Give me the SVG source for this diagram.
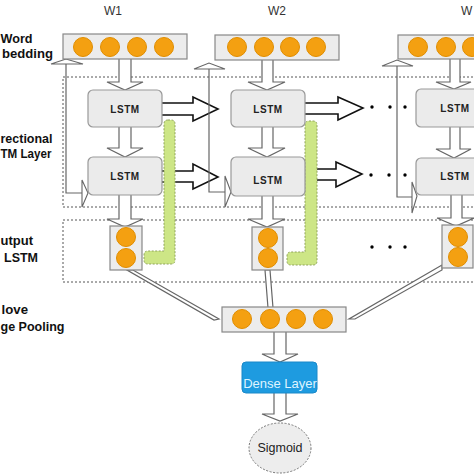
<svg xmlns="http://www.w3.org/2000/svg" width="474" height="474" viewBox="0 0 474 474">
<style>
.lbl{font-family:"Liberation Sans",Arial,sans-serif;font-weight:bold;font-size:13.5px;fill:#111}
.w{font-family:"Liberation Sans",Arial,sans-serif;font-size:12px;fill:#333}
.lstm{font-family:"Liberation Sans",Arial,sans-serif;font-weight:bold;font-size:10px;fill:#222;text-anchor:middle;letter-spacing:0.6px}
.vec{fill:#ececec;stroke:#888;stroke-width:1.2}
.dot{fill:#f4a011;stroke:#e08d00;stroke-width:1}
.box{fill:#ebebeb;stroke:#999;stroke-width:1.2}
.region{fill:none;stroke:#555;stroke-width:1;stroke-dasharray:2 2}
.darr{fill:#fff;stroke:#666;stroke-width:1.2}
.harr{fill:#fff;stroke:#111;stroke-width:1.6}
.fb{fill:none;stroke:#666;stroke-width:1.2}
.fbh{fill:#fff;stroke:#666;stroke-width:1.1}
.green{fill:#cde686;stroke:#8fa35a;stroke-width:1;stroke-dasharray:2 1.5}
.ell{fill:#000}
</style>
<rect width="474" height="474" fill="#fff"/>

<g id="regions">
<rect class="region" x="63" y="77" width="430" height="130"/>
<rect class="region" x="63" y="220" width="430" height="62"/>
</g>

<g id="labels">
<text class="lbl" x="0.5" y="43" textLength="32" lengthAdjust="spacingAndGlyphs">Word</text>
<text class="lbl" x="2" y="58" textLength="51" lengthAdjust="spacingAndGlyphs">bedding</text>
<text class="lbl" x="0.5" y="143" textLength="52" lengthAdjust="spacingAndGlyphs">rectional</text>
<text class="lbl" x="0.5" y="158" textLength="51" lengthAdjust="spacingAndGlyphs">TM Layer</text>
<text class="lbl" x="0.5" y="245" textLength="32.5" lengthAdjust="spacingAndGlyphs">utput</text>
<text class="lbl" x="4" y="262" textLength="34" lengthAdjust="spacingAndGlyphs">LSTM</text>
<text class="lbl" x="1.5" y="314" textLength="26.5" lengthAdjust="spacingAndGlyphs">love</text>
<text class="lbl" x="0.5" y="331" textLength="64" lengthAdjust="spacingAndGlyphs">ge Pooling</text>
<text class="w" x="104" y="15">W1</text>
<text class="w" x="268" y="15">W2</text>
<text class="w" x="461" y="15">W</text>
</g>

<g id="connectors">
<!-- down arrows -->
<path class="darr" d="M119,59 V82 H107 L125,90 L143,82 H131 V59"/>
<path class="darr" d="M119,127 V148 H107 L125,157 L143,148 H131 V127"/>
<path class="darr" d="M119,195 V219 H107 L125,227 L143,219 H131 V195"/>
<path class="darr" d="M262,59 V82 H248 L267,90 L285,82 H273 V59"/>
<path class="darr" d="M262,127 V148 H248 L267,157 L285,148 H273 V127"/>
<path class="darr" d="M262,196 V219 H248 L267,227 L285,219 H273 V196"/>
<path class="darr" d="M450,59 V82 H436 L454,89 L471,82 H460 V59"/>
<path class="darr" d="M450,127 V149 H436 L454,158 L471,149 H460 V127"/>
<path class="darr" d="M451,195 V218 H437 L456,226 L474,218 H462 V195"/>
<path class="darr" d="M274,332 V354 H262 L280,362 L298,354 H286 V332"/>
<path class="darr" d="M274,393 V414 H262 L280,421 L298,414 H286 V393"/>
<!-- horizontal arrows -->
<path class="harr" d="M162,103 H193 V97 L218,109 L193,121 V115 H162"/>
<path class="harr" d="M162,171 H193 V164 L218,177 L193,189 V182 H162"/>
<path class="harr" d="M305,103 H338 V97 L363,108 L338,120 V114 H305"/>
<path class="harr" d="M305,169 H336 V162 L362,174 L336,187 V180 H305"/>
<!-- output to pooling -->
<path class="darr" d="M127,270 L133,270 L219,319 L214,320 Z"/>
<path class="darr" d="M265,270 L270,270 L273,308 L268,308 Z"/>
<path class="darr" d="M442,265 L442,270 L355,319 L349,319 Z"/>
<!-- feedback lines -->
<path class="fb" d="M66,64 V193 H82"/>
<path class="fbh" d="M51,64 L66,59 L83,64 Z"/>
<path class="fbh" d="M82,180 L88,193 L82,207 Z"/>
<path class="fb" d="M209,69 V192 H225"/>
<path class="fbh" d="M194,69 L209,63 L225,69 Z"/>
<path class="fbh" d="M225,176 L231,192 L225,207 Z"/>
<path class="fb" d="M397,66 V197 H412"/>
<path class="fbh" d="M382,66 L397,60 L413,66 Z"/>
<path class="fbh" d="M412,182 L417,196 L412,213 Z"/>
</g>

<g id="green1"><path class="green" d="M168,120 H171 Q175,120 175,124 V260 Q175,264 171,264 H148 Q144,264 144,260 V255 Q144,251 148,251 H164 V124 Q164,120 168,120 Z"/></g>
<g id="green2"><path class="green" d="M309,121 H313 Q317,121 317,125 V261 Q317,265 313,265 H291 Q287,265 287,261 V256 Q287,252 291,252 H305 V125 Q305,121 309,121 Z"/></g>

<g id="ellipsis">
<circle class="ell" cx="372" cy="107" r="1.7"/><circle class="ell" cx="390" cy="107" r="1.7"/><circle class="ell" cx="405" cy="107" r="1.7"/>
<circle class="ell" cx="371" cy="175" r="1.7"/><circle class="ell" cx="389" cy="175" r="1.7"/><circle class="ell" cx="405" cy="175" r="1.7"/>
<circle class="ell" cx="372" cy="247" r="1.7"/><circle class="ell" cx="390" cy="247" r="1.7"/><circle class="ell" cx="405" cy="247" r="1.7"/>
</g>

<g id="emb1"><rect class="vec" x="63" y="34" width="124" height="25"/>
<circle class="dot" cx="83" cy="47" r="9.5"/><circle class="dot" cx="110" cy="47" r="9.5"/><circle class="dot" cx="137" cy="47" r="9.5"/><circle class="dot" cx="164" cy="47" r="9.5"/></g>
<g id="emb2"><rect class="vec" x="215" y="35" width="124" height="25"/>
<circle class="dot" cx="237" cy="47" r="9.5"/><circle class="dot" cx="264" cy="47" r="9.5"/><circle class="dot" cx="290" cy="47" r="9.5"/><circle class="dot" cx="316" cy="47" r="9.5"/></g>
<g id="emb3"><rect class="vec" x="398" y="35" width="124" height="24"/>
<circle class="dot" cx="418" cy="47" r="9.5"/><circle class="dot" cx="446" cy="47" r="9.5"/><circle class="dot" cx="472" cy="47" r="9.5"/></g>

<g id="lstm1a"><rect class="box" x="88" y="90" width="74" height="37" rx="5"/><text class="lstm" x="125" y="113">LSTM</text></g>
<g id="lstm1b"><rect class="box" x="88" y="157" width="74" height="38" rx="5"/><text class="lstm" x="125" y="180">LSTM</text></g>
<g id="lstm2a"><rect class="box" x="231" y="90" width="74" height="37" rx="5"/><text class="lstm" x="268" y="113">LSTM</text></g>
<g id="lstm2b"><rect class="box" x="231" y="157" width="74" height="39" rx="5"/><text class="lstm" x="268" y="184">LSTM</text></g>
<g id="lstm3a"><rect class="box" x="416" y="89" width="74" height="38" rx="5"/><text class="lstm" x="455" y="112">LSTM</text></g>
<g id="lstm3b"><rect class="box" x="416" y="158" width="74" height="37" rx="5"/><text class="lstm" x="455" y="180">LSTM</text></g>

<g id="out1"><rect class="vec" x="110" y="226" width="32" height="44"/>
<circle class="dot" cx="126" cy="237" r="9.5"/><circle class="dot" cx="126" cy="258" r="9.5"/></g>
<g id="out2"><rect class="vec" x="252" y="227" width="31" height="43"/>
<circle class="dot" cx="268" cy="238" r="9.5"/><circle class="dot" cx="268" cy="258" r="9.5"/></g>
<g id="out3"><rect class="vec" x="442" y="225" width="31" height="43"/>
<circle class="dot" cx="458" cy="237" r="9.5"/><circle class="dot" cx="458" cy="257" r="9.5"/></g>

<g id="pool"><rect class="vec" x="222" y="307" width="124" height="25"/>
<circle class="dot" cx="242" cy="319" r="9.5"/><circle class="dot" cx="270" cy="319" r="9.5"/><circle class="dot" cx="296" cy="319" r="9.5"/><circle class="dot" cx="323" cy="319" r="9.5"/></g>

<g id="dense"><rect x="242" y="362" width="75" height="31" rx="4" fill="#1e9be0" stroke="#1a88c8" stroke-width="1"/>
<text x="280" y="388" font-family="Liberation Sans,Arial,sans-serif" font-size="13" fill="#dff4ff" text-anchor="middle">Dense Layer</text></g>

<g id="sigmoid"><ellipse cx="280" cy="448" rx="31" ry="25" fill="#ededed" stroke="#777" stroke-width="1" stroke-dasharray="2 1.5"/>
<text x="280" y="452" font-family="Liberation Sans,Arial,sans-serif" font-size="12.5" fill="#222" text-anchor="middle">Sigmoid</text></g>
</svg>
